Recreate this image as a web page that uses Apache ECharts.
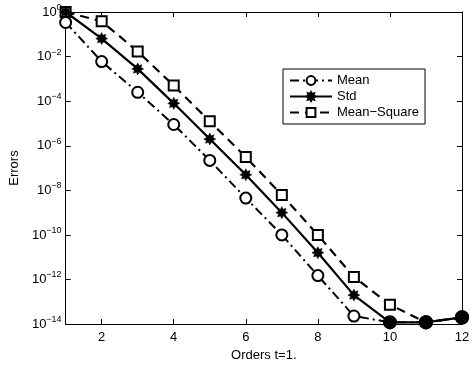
<!DOCTYPE html>
<html><head><meta charset="utf-8">
<script src="https://cdn.jsdelivr.net/npm/echarts@6/dist/echarts.min.js"></script>
<style>html,body{margin:0;padding:0;background:#fff}#c{width:474px;height:367px}</style>
</head><body><div id="c"></div>
<script>
var orders = [1,2,3,4,5,6,7,8,9,10,11,12];
var meanErr = [0.34, 6e-3, 2.5e-4, 9e-6, 2.2e-7, 4.5e-9, 1e-10, 1.5e-12, 2.3e-14, 1.2e-14, 1.2e-14, 2e-14];
var stdErr = [1, 6.4e-2, 2.8e-3, 8e-5, 2e-6, 5e-8, 1e-9, 1.6e-11, 2e-13, 1.2e-14, 1.2e-14, 2e-14];
var msErr = [1, 0.38, 1.7e-2, 5e-4, 1.25e-5, 3.1e-7, 6.2e-9, 1e-10, 1.3e-12, 7.4e-14, 1.2e-14, 2e-14];
var xTicks = [2,4,6,8,10,12];
var yTicks = [1e-14,1e-12,1e-10,1e-8,1e-6,1e-4,1e-2,1];
var seriesNames = ['Mean','Std','Mean\u2212Square'];

var FONT = 'Liberation Sans, Arial, Helvetica, sans-serif';
function starPath(){
  var pts=[], n=8;
  for(var i=0;i<2*n;i++){
    var r = i%2===0 ? 10 : 6;
    var a = Math.PI*i/n - Math.PI/2;
    pts.push((10+r*Math.cos(a)).toFixed(2)+','+(10+r*Math.sin(a)).toFixed(2));
  }
  return 'path://M'+pts.join('L')+'Z';
}
var STAR = starPath();
function pairs(vals, filledFrom){
  return orders.map(function(x,i){
    var d = {value:[x, vals[i]]};
    if (x>=filledFrom) {
      d.symbol='circle'; d.symbolSize=12; d.itemStyle={color:'#000',borderColor:'#000'};
    }
    return d;
  });
}
function fmtY(v){
  var e = Math.round(Math.log10(v));
  var s = e<0 ? '\u2212'+(-e) : ''+e;
  return '{b|10}{s|'+s+'}';
}
var chart = echarts.init(document.getElementById('c'), null, {renderer:'canvas'});
var axisLine = {show:true, lineStyle:{color:'#000', width:1}};
chart.setOption({
  animation:false,
  backgroundColor:'#fff',
  textStyle:{fontFamily:FONT},
  grid:{left:53, right:12, top:12, bottom:34},
  legend:{
    data: seriesNames,
    orient:'vertical', left:283, top:69, width:131,
    padding:[5,6,5,6], itemGap:3, itemWidth:42, itemHeight:11,
    backgroundColor:'#fff', borderColor:'#000', borderWidth:1, borderRadius:0,
    textStyle:{color:'#000', fontSize:13, fontFamily:FONT}
  },
  xAxis:[{
    type:'value', min:1, max:12, position:'bottom',
    name:'Orders t=1.', nameLocation:'middle', nameGap:19,
    nameTextStyle:{color:'#000', fontSize:13, fontFamily:FONT},
    axisLine:axisLine,
    axisTick:{inside:true, length:5, customValues:xTicks, lineStyle:{color:'#000'}},
    axisLabel:{customValues:xTicks, color:'#000', fontSize:13, margin:7, fontFamily:FONT},
    splitLine:{show:false}
  },{
    type:'value', min:1, max:12, position:'top',
    axisLine:axisLine,
    axisTick:{inside:true, length:5, customValues:xTicks, lineStyle:{color:'#000'}},
    axisLabel:{show:false}, splitLine:{show:false}
  }],
  yAxis:[{
    type:'log', logBase:10, min:1e-14, max:1, position:'left',
    name:'Errors', nameLocation:'middle', nameGap:37, nameRotate:90,
    nameTextStyle:{color:'#000', fontSize:13, fontFamily:FONT},
    axisLine:axisLine,
    axisTick:{inside:true, length:5, customValues:yTicks, lineStyle:{color:'#000'}},
    minorTick:{show:false},
    axisLabel:{customValues:yTicks, formatter:fmtY, margin:4,
      rich:{b:{fontSize:13, color:'#000', fontFamily:FONT},
            s:{fontSize:9, color:'#000', fontFamily:FONT, verticalAlign:'top', padding:[0,0,9,0]}}},
    splitLine:{show:false}
  },{
    type:'log', logBase:10, min:1e-14, max:1, position:'right',
    axisLine:axisLine,
    axisTick:{inside:true, length:5, customValues:yTicks, lineStyle:{color:'#000'}},
    axisLabel:{show:false}, splitLine:{show:false}
  }],
  series:[{
    name:seriesNames[0], type:'line', data:pairs(meanErr, 10),
    symbol:'emptyCircle', symbolSize:11, showAllSymbol:true,
    lineStyle:{color:'#000', width:2, type:[9,4,2,4]},
    itemStyle:{color:'#000', borderColor:'#000', borderWidth:2.2}, z:3
  },{
    name:seriesNames[1], type:'line', data:pairs(stdErr, 10),
    symbol:STAR, symbolSize:12, showAllSymbol:true,
    lineStyle:{color:'#000', width:2.2, type:'solid'},
    itemStyle:{color:'#000', borderColor:'#000', borderWidth:0.5}, z:4
  },{
    name:seriesNames[2], type:'line', data:pairs(msErr, 11),
    symbol:'emptyRect', symbolSize:10, showAllSymbol:true,
    lineStyle:{color:'#000', width:2.2, type:[9,6]},
    itemStyle:{color:'#000', borderColor:'#000', borderWidth:2.2}, z:3
  }]
});
</script></body></html>
